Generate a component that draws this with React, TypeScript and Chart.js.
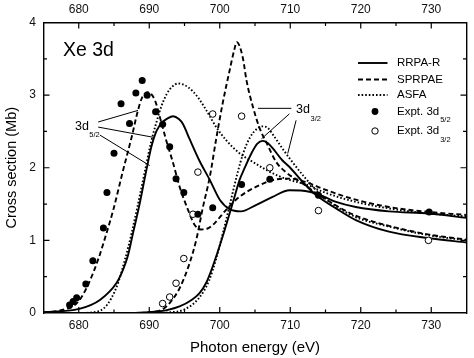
import React, { useEffect, useRef } from 'react';
import { Chart, registerables } from 'chart.js';

Chart.register(...registerables);

const FONT = '"Liberation Sans", Arial, Helvetica, sans-serif';

// Axis ticks
const xTicks = [680, 690, 700, 710, 720, 730];
const xMinorTicks = [685, 695, 705, 715, 725];
const yTicks = [0, 1, 2, 3, 4];
const yMinorTicks = [0.5, 1.5, 2.5, 3.5];

// Theory curves [photon energy (eV), cross section (Mb)]
const rrpaR52: [number, number][] = [
  [675, 0.01], [677, 0.02], [680.2, 0.06], [683, 0.18], [685.4, 0.42], [686.3, 0.6], [687, 0.8],
  [687.7, 1.1], [688.5, 1.44], [689.6, 1.97], [690.3, 2.29], [691, 2.5], [691.8, 2.62], [692.6, 2.68],
  [693.4, 2.71], [694.2, 2.67], [694.8, 2.6], [695.7, 2.4], [697.1, 2.1], [698.6, 1.83], [700, 1.56],
  [701.4, 1.43], [703, 1.4], [705.2, 1.49], [707.5, 1.6], [709.9, 1.69], [712.7, 1.67], [714.6, 1.61],
  [716.5, 1.53], [719.3, 1.46], [724, 1.4], [729.7, 1.37], [735, 1.31],
];
const sprpae52: [number, number][] = [
  [675, 0.01], [676.5, 0.02], [678, 0.05], [679.3, 0.1], [680.4, 0.22], [681.6, 0.45], [682.8, 0.75],
  [684, 1.12], [684.9, 1.42], [686.3, 1.97], [687.5, 2.42], [688.4, 2.79], [689, 2.97], [689.8, 3.04],
  [690.8, 2.93], [691.5, 2.7], [692.4, 2.38], [693.4, 2.06], [694.3, 1.74], [695.5, 1.42], [696.4, 1.22],
  [697.3, 1.15], [698.2, 1.16], [699, 1.21], [700.9, 1.42], [702.8, 1.6], [705.2, 1.74], [707.5, 1.83],
  [709.9, 1.85], [712.3, 1.8], [714.6, 1.71], [719.3, 1.56], [724, 1.46], [728.7, 1.4], [735, 1.35],
];
const asfa52: [number, number][] = [
  [675, 0], [680, 0], [682, 0.01], [683.5, 0.06], [684.6, 0.2], [685.6, 0.42], [686.6, 0.75],
  [687.5, 1.1], [688.3, 1.45], [689.4, 1.96], [690.2, 2.33], [691, 2.62], [691.7, 2.84], [692.5, 3.02],
  [693.3, 3.12], [694.1, 3.16], [695.5, 3.11], [696.9, 2.97], [698.1, 2.79], [699.5, 2.56], [700.9, 2.38],
  [702.8, 2.2], [704.7, 2.08], [706.6, 1.97], [708.5, 1.88], [710, 1.83], [712.5, 1.76], [714.6, 1.67],
  [719.3, 1.53], [724, 1.44], [729.7, 1.37], [735, 1.33],
];
const rrpaR32: [number, number][] = [
  [675, 0], [688, 0], [691, 0.02], [692.5, 0.04], [694.3, 0.09], [696, 0.18], [697.1, 0.27],
  [698.1, 0.42], [699, 0.64], [700.4, 1.05], [701.4, 1.37], [702.1, 1.6], [702.8, 1.83], [703.5, 1.99],
  [704.5, 2.2], [705.3, 2.33], [706.1, 2.37], [706.8, 2.34], [707.5, 2.27], [708.9, 2.1], [709.9, 2.01],
  [711.8, 1.8], [713.7, 1.62], [716.5, 1.44], [719.3, 1.28], [724, 1.12], [729.7, 1.03], [735, 0.97],
];
const sprpae32: [number, number][] = [
  [675, 0], [688, 0], [690, 0.01], [691.9, 0.05], [693, 0.15], [694.3, 0.34], [695.7, 0.68],
  [696.7, 1.02], [697.6, 1.45], [698.6, 1.88], [699.5, 2.4], [700.4, 2.88], [701.4, 3.34], [702.1, 3.64],
  [702.4, 3.73], [702.8, 3.68], [703.3, 3.5], [703.8, 3.2], [704.7, 2.84], [705.6, 2.56], [706.8, 2.31],
  [708, 2.08], [709.5, 1.93], [711.5, 1.8], [713.7, 1.65], [716.5, 1.48], [719.3, 1.34], [724, 1.2],
  [729.7, 1.08], [735, 1.01],
];
const asfa32: [number, number][] = [
  [675, 0], [690, 0], [693, 0.01], [695, 0.05], [697, 0.2], [698.5, 0.45], [699.5, 0.75], [700.5, 1.12],
  [701.5, 1.52], [702.5, 1.92], [703.4, 2.22], [704.3, 2.42], [705.2, 2.53], [706, 2.57], [706.8, 2.55],
  [707.8, 2.42], [709, 2.25], [709.9, 2.13], [712.2, 1.85], [714, 1.66], [716.5, 1.47], [719.3, 1.32],
  [724, 1.19], [729.7, 1.07], [735, 1.0],
];

// Experimental points
const expt52: [number, number][] = [
  [678.7, 0.11], [679.2, 0.16], [679.7, 0.21], [681, 0.4], [682, 0.72], [683.5, 1.17], [684, 1.66],
  [685, 2.2], [686, 2.88], [687.2, 2.61], [688.1, 3.03], [689, 3.2], [689.7, 3.0], [690.9, 2.77],
  [691.9, 2.6], [692.9, 2.29], [693.8, 1.85], [694.9, 1.66], [696.9, 1.36], [699, 1.45], [703.1, 1.77],
  [707.1, 1.84], [714, 1.62], [729.7, 1.39],
];
const expt32: [number, number][] = [
  [691.9, 0.13], [692.9, 0.22], [693.8, 0.41], [694.9, 0.75], [696.2, 1.36], [696.9, 1.94], [699, 2.74],
  [703.1, 2.71], [707.1, 2.0], [714, 1.41], [729.6, 1.0],
];

// Legend
const legendLabels = ['RRPA-R', 'SPRPAE', 'ASFA', 'Expt. 3d', 'Expt. 3d'];
const legendSubs = ['', '', '', '5/2', '3/2'];

// Annotation pointer lines (data coords): [x1, y1, x2, y2]
const label52Lines: number[][] = [
  [682.76, 2.63, 688.41, 2.79],
  [682.76, 2.56, 690.54, 2.42],
  [683.0, 2.45, 690.07, 2.03],
];
const label32Lines: number[][] = [
  [710.16, 2.818, 705.42, 2.818],
  [709.88, 2.742, 705.92, 2.399],
  [710.83, 2.653, 709.64, 2.195],
];
const label52Pos = [679.46, 2.57];
const label32Pos = [710.83, 2.80];

const DASH = [5, 3];
const DOT = [1.6, 2];

const toXY = (arr: [number, number][]) => arr.map(([x, y]) => ({ x, y }));

const framePlugin = {
  id: 'frame',
  afterDraw(chart: any) {
    const { ctx, chartArea: a, scales } = chart;
    const xs = scales.x;
    const ys = scales.y;
    ctx.save();
    ctx.strokeStyle = '#000';
    ctx.lineWidth = 1.2;
    ctx.setLineDash([]);
    ctx.beginPath();
    const xt = (v: number, len: number) => {
      const px = xs.getPixelForValue(v);
      ctx.moveTo(px, a.bottom);
      ctx.lineTo(px, a.bottom - len);
      ctx.moveTo(px, a.top);
      ctx.lineTo(px, a.top + len);
    };
    const yt = (v: number, len: number) => {
      const py = ys.getPixelForValue(v);
      ctx.moveTo(a.left, py);
      ctx.lineTo(a.left + len, py);
      ctx.moveTo(a.right, py);
      ctx.lineTo(a.right - len, py);
    };
    xTicks.forEach((v) => xt(v, 6));
    xMinorTicks.forEach((v) => xt(v, 3.5));
    yTicks.slice(1, -1).forEach((v) => yt(v, 6));
    yMinorTicks.forEach((v) => yt(v, 3.5));
    ctx.stroke();

    // Title inside plot
    ctx.fillStyle = '#000';
    ctx.textBaseline = 'middle';
    ctx.textAlign = 'left';
    ctx.font = `19.5px ${FONT}`;
    ctx.fillText('Xe 3d', a.left + 19.5, a.top + 28);

    // Legend
    const lx1 = a.left + 314.5;
    const lx2 = a.left + 344;
    const mx = a.left + 331.5;
    const tx = a.left + 353.5;
    const rows = [40.5, 57, 72.5, 89, 108.5];
    const dashes = [[], DASH, DOT];
    ctx.lineWidth = 1.9;
    for (let i = 0; i < 3; i++) {
      const y = a.top + rows[i];
      ctx.setLineDash(dashes[i]);
      ctx.beginPath();
      ctx.moveTo(lx1, y);
      ctx.lineTo(lx2, y);
      ctx.stroke();
    }
    ctx.setLineDash([]);
    // markers
    ctx.lineWidth = 1;
    ctx.beginPath();
    ctx.arc(mx, a.top + rows[3], 3.4, 0, Math.PI * 2);
    ctx.fillStyle = '#000';
    ctx.fill();
    ctx.beginPath();
    ctx.arc(mx, a.top + rows[4], 3.2, 0, Math.PI * 2);
    ctx.fillStyle = '#fff';
    ctx.fill();
    ctx.stroke();
    ctx.fillStyle = '#000';
    for (let i = 0; i < legendLabels.length; i++) {
      const y = a.top + rows[i];
      ctx.font = `11.5px ${FONT}`;
      ctx.fillText(legendLabels[i], tx, y);
      if (legendSubs[i]) {
        const w = ctx.measureText(legendLabels[i]).width;
        ctx.font = `7.5px ${FONT}`;
        ctx.fillText(legendSubs[i], tx + w + 1, y + 8.5);
      }
    }

    // Annotations
    ctx.lineWidth = 1;
    ctx.beginPath();
    [...label52Lines, ...label32Lines].forEach(([x1, y1, x2, y2]) => {
      ctx.moveTo(xs.getPixelForValue(x1), ys.getPixelForValue(y1));
      ctx.lineTo(xs.getPixelForValue(x2), ys.getPixelForValue(y2));
    });
    ctx.stroke();
    const drawLabel = (pos: number[], sub: string) => {
      const px = xs.getPixelForValue(pos[0]);
      const py = ys.getPixelForValue(pos[1]);
      ctx.font = `12.5px ${FONT}`;
      ctx.fillText('3d', px, py);
      const w = ctx.measureText('3d').width;
      ctx.font = `7.5px ${FONT}`;
      ctx.fillText(sub, px + w + 0.5, py + 9);
    };
    drawLabel(label52Pos, '5/2');
    drawLabel(label32Pos, '3/2');
    ctx.restore();
  },
};

const lineDs = (label: string, data: [number, number][], dash: number[]) => ({
  type: 'line' as const,
  label,
  data: toXY(data),
  borderColor: '#000',
  borderWidth: 1.9,
  borderDash: dash,
  pointRadius: 0,
  fill: false,
  tension: 0.4,
  cubicInterpolationMode: 'monotone' as const,
});

export default function App() {
  const ref = useRef<HTMLCanvasElement | null>(null);
  useEffect(() => {
    if (!ref.current) return;
    const tickFont = { family: FONT, size: 12 };
    const chart = new Chart(ref.current, {
      type: 'line',
      data: {
        datasets: [
          {
            type: 'line',
            label: 'Expt. 3d5/2',
            data: toXY(expt52),
            showLine: false,
            pointRadius: 3.5,
            pointBackgroundColor: '#000',
            pointBorderColor: '#000',
            pointBorderWidth: 0,
          },
          {
            type: 'line',
            label: 'Expt. 3d3/2',
            data: toXY(expt32),
            showLine: false,
            pointRadius: 3.3,
            pointBackgroundColor: '#fff',
            pointBorderColor: '#000',
            pointBorderWidth: 1,
          },
          lineDs('RRPA-R 3d5/2', rrpaR52, []),
          lineDs('SPRPAE 3d5/2', sprpae52, DASH),
          lineDs('ASFA 3d5/2', asfa52, DOT),
          lineDs('RRPA-R 3d3/2', rrpaR32, []),
          lineDs('SPRPAE 3d3/2', sprpae32, DASH),
          lineDs('ASFA 3d3/2', asfa32, DOT),
        ] as any,
      },
      options: {
        animation: false,
        responsive: false,
        devicePixelRatio: 1,
        layout: { padding: 0 },
        plugins: { legend: { display: false }, tooltip: { enabled: false } },
        scales: {
          x: {
            type: 'linear',
            position: 'bottom',
            min: 675,
            max: 735,
            grid: { display: false, drawTicks: false },
            border: { display: true, color: '#000', width: 1.4 },
            ticks: { color: '#111', font: tickFont, padding: 5, maxRotation: 0, autoSkip: false },
            afterBuildTicks: (s: any) => { s.ticks = xTicks.map((v) => ({ value: v })); },
            afterFit: (s: any) => { s.height = 45; },
            title: { display: true, text: 'Photon energy (eV)', color: '#000', font: { family: FONT, size: 15 }, padding: { top: 0, bottom: 1 } },
          },
          x2: {
            type: 'linear',
            position: 'top',
            min: 675,
            max: 735,
            grid: { display: false, drawTicks: false },
            border: { display: true, color: '#000', width: 1.4 },
            ticks: { color: '#111', font: tickFont, padding: 5.5, maxRotation: 0, autoSkip: false },
            afterBuildTicks: (s: any) => { s.ticks = xTicks.map((v) => ({ value: v })); },
            afterFit: (s: any) => { s.height = 22.5; },
          },
          y: {
            type: 'linear',
            position: 'left',
            min: 0,
            max: 4,
            grid: { display: false, drawTicks: false },
            border: { display: true, color: '#000', width: 1.4 },
            ticks: { color: '#111', font: tickFont, padding: 7.5 },
            afterBuildTicks: (s: any) => { s.ticks = yTicks.map((v) => ({ value: v })); },
            afterFit: (s: any) => { s.width = 43.5; },
            title: { display: true, text: 'Cross section (Mb)', color: '#000', font: { family: FONT, size: 14.5 }, padding: { top: 3.3, bottom: 0 } },
          },
          y2: {
            type: 'linear',
            position: 'right',
            min: 0,
            max: 4,
            grid: { display: false, drawTicks: false },
            border: { display: true, color: '#000', width: 1.4 },
            ticks: { display: false },
            afterFit: (s: any) => { s.width = 7.5; },
          },
        },
      } as any,
      plugins: [framePlugin],
    });
    return () => chart.destroy();
  }, []);
  return (
    <div style={{ position: 'absolute', left: 0, top: 0, width: 474, height: 358, background: '#fff' }}>
      <canvas ref={ref} width={474} height={358} style={{ display: 'block' }} />
    </div>
  );
}
